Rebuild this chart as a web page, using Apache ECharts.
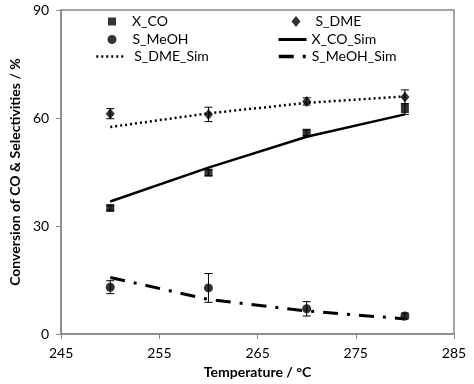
<!DOCTYPE html>
<html><head><meta charset="utf-8">
<script src="https://cdn.jsdelivr.net/npm/echarts@6/dist/echarts.min.js"></script>
<style>html,body{margin:0;padding:0;background:#fff}#c{width:474px;height:384px}</style>
</head><body><div id="c"></div>
<script>
const temps = [250, 260, 270, 280];
const xCO = [35.0, 44.8, 55.9, 62.5];
const xCOErr = [0.6, 0.8, 0.8, 1.5];
const sDME = [61.2, 61.0, 64.6, 65.8];
const sDMEErr = [1.4, 2.0, 1.0, 2.0];
const sMeOH = [13.0, 12.8, 7.0, 5.0];
const sMeOHErr = [1.8, 4.0, 2.0, 0.8];
const xCOSim = [36.8, 46.2, 54.8, 61.0];
const sDMESim = [57.5, 61.3, 64.2, 66.0];
const sMeOHSim = [15.7, 9.6, 6.4, 4.2];
const xTicks = [245, 255, 265, 275, 285];
const yTicks = [0, 30, 60, 90];

const FONT = 'Lato';
function pairs(xs, ys){ return xs.map((x,i)=>[x, ys[i]]); }
function errData(ys, es){ return temps.map((x,i)=>[x, ys[i]-es[i], ys[i]+es[i]]); }
function errSeries(ys, es){
  return {
    type: 'custom', silent: true, z: 1,
    data: errData(ys, es),
    renderItem: function(params, api){
      const lo = api.coord([api.value(0), api.value(1)]);
      const hi = api.coord([api.value(0), api.value(2)]);
      const w = 4;
      const st = {stroke:'#000', lineWidth:1};
      return {type:'group', children:[
        {type:'line', shape:{x1:lo[0],y1:lo[1],x2:hi[0],y2:hi[1]}, style:st},
        {type:'line', shape:{x1:lo[0]-w,y1:lo[1],x2:lo[0]+w,y2:lo[1]}, style:st},
        {type:'line', shape:{x1:hi[0]-w,y1:hi[1],x2:hi[0]+w,y2:hi[1]}, style:st}
      ]};
    }
  };
}
function leg(name, left, top, w, h, pad, lineW){
  const o = {data: [name], left: left, top: top, padding: 0, itemWidth: w, itemHeight: h,
    textStyle: {fontFamily: FONT, fontSize: 14, color: '#000', padding: [0, 0, 0, pad]}};
  if (lineW) { o.itemStyle = {opacity: 0}; o.lineStyle = {width: lineW}; }
  return o;
}
const chart = echarts.init(document.getElementById('c'));
chart.setOption({
  animation: false,
  backgroundColor: '#fff',
  grid: {left: 57, right: 20, top: 10, bottom: 48, show: true, borderColor: '#888', borderWidth: 1.5},
  legend: [
    leg('X_CO', 108, 14.5, 8, 8, 11, 0),
    leg('S_MeOH', 107.5, 32.5, 9, 9, 11, 0),
    leg('S_DME_Sim', 95, 49.5, 27, 14, 6, 2.5),
    leg('S_DME', 291.5, 14.5, 9, 11, 10, 0),
    leg('X_CO_Sim', 277, 32.5, 28, 14, 0, 3),
    leg('S_MeOH_Sim', 277, 49.5, 28, 14, 0, 3.5)
  ],
  xAxis: {
    type: 'value', min: 245, max: 285, interval: 10,
    name: 'Temperature / °C', nameLocation: 'middle', nameGap: 31,
    nameTextStyle: {fontFamily: FONT, fontSize: 14, fontWeight: 'bold', color: '#000'},
    axisLine: {show: true, onZero: false, lineStyle: {color: '#888', width: 1.5}},
    axisTick: {show: true, length: 5, lineStyle: {color: '#888'}},
    axisLabel: {fontFamily: FONT, fontSize: 14, color: '#000', margin: 12},
    splitLine: {show: false}
  },
  yAxis: {
    type: 'value', min: 0, max: 90, interval: 30,
    name: 'Conversion of CO & Selectivities / %', nameLocation: 'middle', nameGap: 33,
    nameTextStyle: {fontFamily: FONT, fontSize: 14, fontWeight: 'bold', color: '#000'},
    axisLine: {show: true, lineStyle: {color: '#888', width: 1.5}},
    axisTick: {show: true, length: 5, lineStyle: {color: '#888'}},
    axisLabel: {fontFamily: FONT, fontSize: 14, color: '#000', margin: 12},
    splitLine: {show: false}
  },
  series: [
    errSeries(xCO, xCOErr), errSeries(sDME, sDMEErr), errSeries(sMeOH, sMeOHErr),
    {name: 'X_CO_Sim', type: 'line', data: pairs(temps, xCOSim), symbol: 'none', z: 2,
      lineStyle: {color: '#000', width: 2.5}, itemStyle: {color: '#000'}},
    {name: 'S_DME_Sim', type: 'line', data: pairs(temps, sDMESim), symbol: 'none', z: 2,
      lineStyle: {color: '#000', width: 2.5, type: [2, 3]}, itemStyle: {color: '#000'}},
    {name: 'S_MeOH_Sim', type: 'line', data: pairs(temps, sMeOHSim), symbol: 'none', z: 2,
      lineStyle: {color: '#000', width: 3, type: [15, 9, 3, 9]}, itemStyle: {color: '#000'}},
    {name: 'X_CO', type: 'scatter', data: pairs(temps, xCO), symbol: 'rect', symbolSize: 8, z: 3, itemStyle: {color: '#000'}},
    {name: 'S_DME', type: 'scatter', data: pairs(temps, sDME), symbol: 'diamond', symbolSize: [9, 11], z: 3, itemStyle: {color: '#000'}},
    {name: 'S_MeOH', type: 'scatter', data: pairs(temps, sMeOH), symbol: 'circle', symbolSize: 9, z: 3, itemStyle: {color: '#000'}}
  ]
});
</script></body></html>
